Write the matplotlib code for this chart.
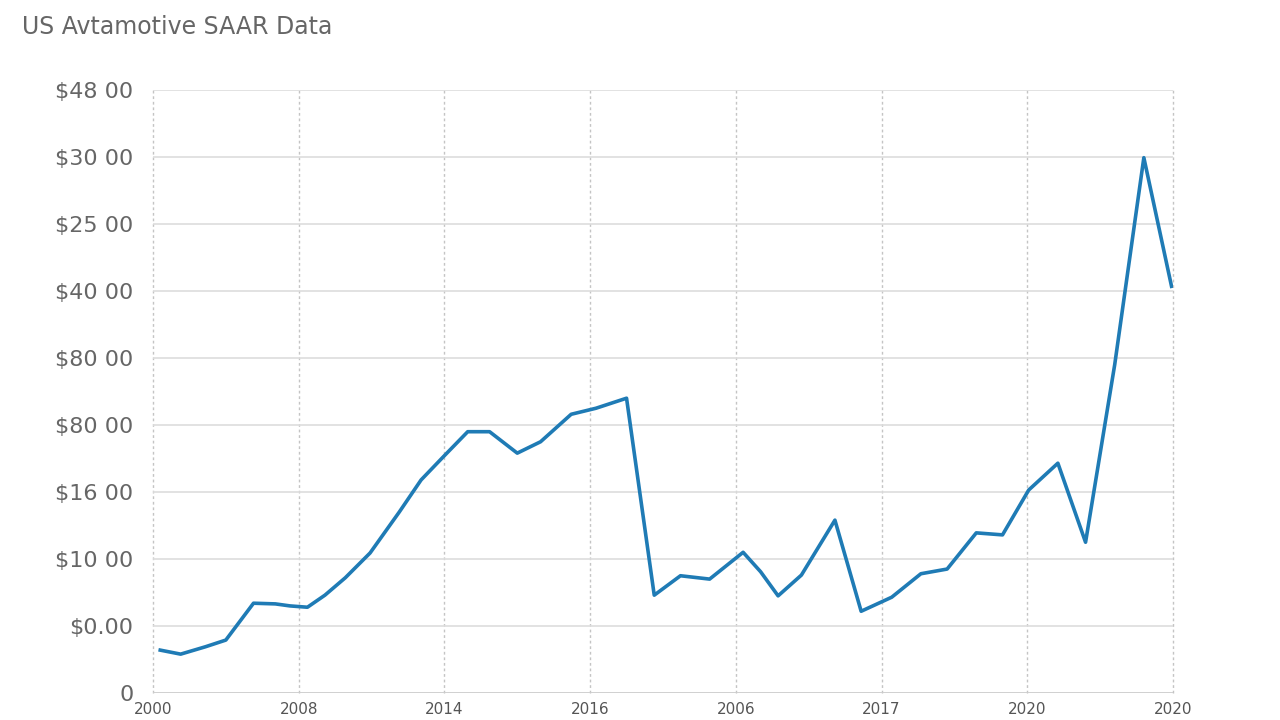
import matplotlib
matplotlib.use("Agg")
import matplotlib.pyplot as plt

x_vals = [0.05,0.19,0.36,0.50,0.69,0.84,0.94,1.06,1.18,1.32,1.49,1.69,1.84,1.99,2.16,2.31,2.50,2.66,2.87,3.04,3.25,3.44,3.62,3.82,4.05,4.17,4.29,4.45,4.68,4.86,5.07,5.27,5.45,5.65,5.83,6.01,6.21,6.40,6.60,6.80,6.99]
y_vals = [0.64,0.58,0.69,0.79,1.34,1.33,1.30,1.28,1.46,1.72,2.09,2.70,3.18,3.52,3.90,3.90,3.58,3.75,4.16,4.25,4.40,1.46,1.75,1.70,2.10,1.81,1.45,1.76,2.58,1.22,1.43,1.78,1.85,2.39,2.36,3.03,3.43,2.25,4.90,7.99,6.07]
y_labels = ["0","$0.00","$10 00","$16 00","$80 00","$80 00","$40 00","$25 00","$30 00","$48 00"]
x_labels = ["2000","2008","2014","2016","2006","2017","2020","2020"]

fig = plt.figure(figsize=(12.8,7.2), dpi=100)
ax = fig.add_axes([0.1195,0.0375,0.7969,0.8375])
ax.plot(x_vals, y_vals, color="#1f7bb5", lw=2.6)
ax.set_xlim(0,7); ax.set_ylim(0,9)
ax.set_yticks(range(10)); ax.set_yticklabels(y_labels, fontsize=16, color="#666666")
ax.set_xticks(range(8)); ax.set_xticklabels([])
for i, lab in enumerate(x_labels):
    ax.text(i, -0.13, lab, ha="center", va="top", fontsize=11, color="#555555", clip_on=False)
for i in range(8):
    ax.axvline(i, color="#c4c4c4", lw=1, ls=(0,(2,2)), zorder=0, clip_on=False)
for j in range(1,10):
    ax.axhline(j, color="#dddddd", lw=1.2, zorder=0)
ax.axhline(0, color="#cccccc", lw=2, zorder=0)
for s in ax.spines.values():
    s.set_visible(False)
ax.tick_params(length=0, pad=14)
fig.text(0.017, 0.962, "US Avtamotive SAAR Data", fontsize=17, color="#666666", ha="left", va="center")
fig.savefig("out.png")
